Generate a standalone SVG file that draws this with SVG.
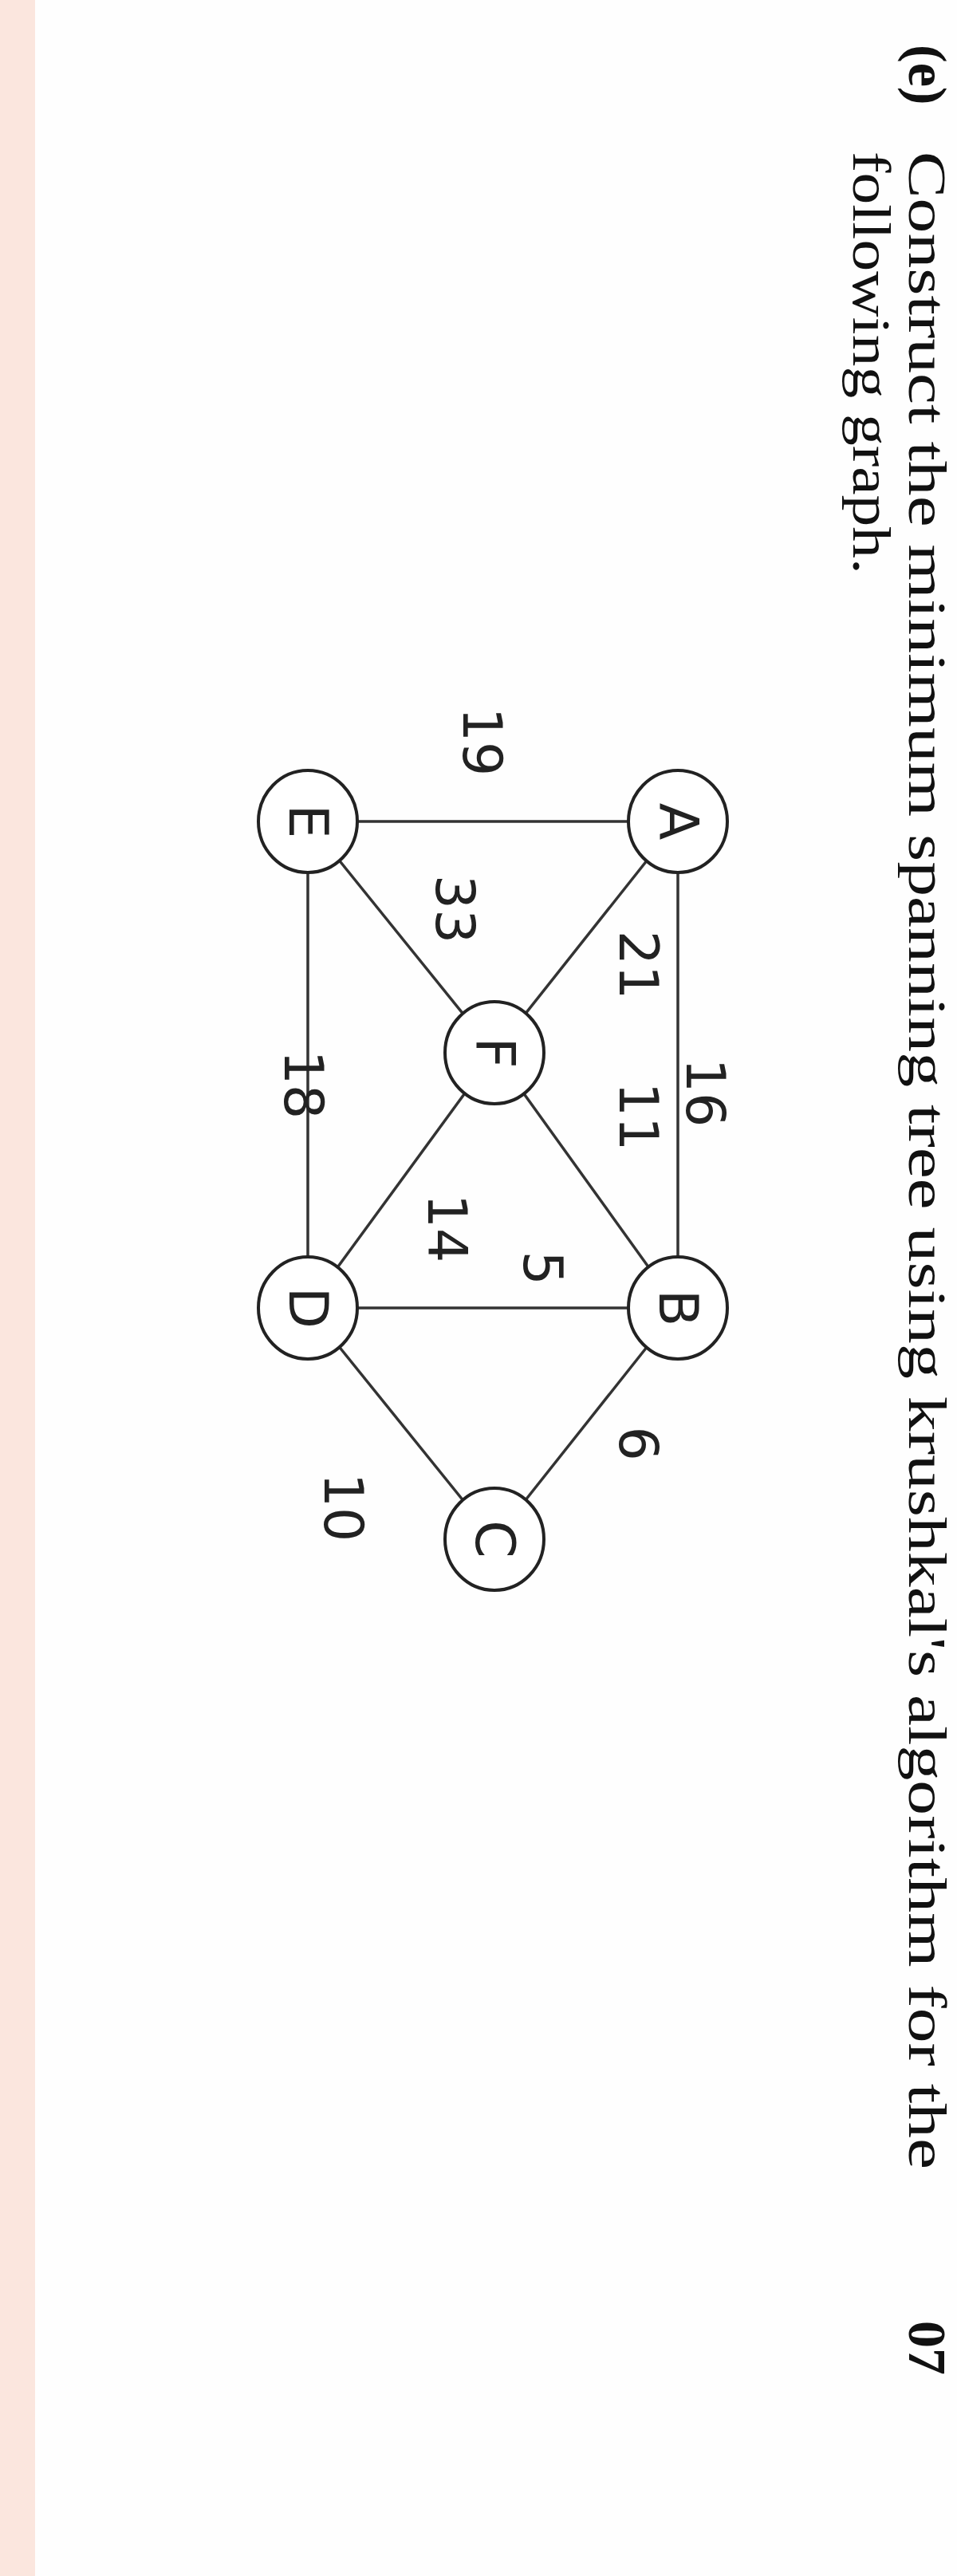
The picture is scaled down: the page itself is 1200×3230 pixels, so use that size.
<svg xmlns="http://www.w3.org/2000/svg" width="1200" height="3230" viewBox="0 0 1200 3230">
<style>
.q{font-family:"Liberation Serif",serif;font-size:68px;fill:#111}
.b{font-weight:bold}
.n{fill:#fff;stroke:#222;stroke-width:4}
.lab{font-family:"DejaVu Sans",sans-serif;font-size:68px;fill:#222;text-anchor:middle;dominant-baseline:central}
.e{stroke:#333;stroke-width:3.5}
</style>
<rect width="1200" height="3230" fill="#fefefe"/>
<rect x="0" y="0" width="44" height="3230" fill="#fbe6de"/>
<text class="q b" transform="translate(1140,56) rotate(90)">(e)</text>
<text class="q" transform="translate(1140,190) rotate(90)" textLength="2530" lengthAdjust="spacingAndGlyphs">Construct the minimum spanning tree using krushkal's algorithm for the</text>
<text class="q b" transform="translate(1140,2910) rotate(90)">07</text>
<text class="q" transform="translate(1070,190) rotate(90)" textLength="530" lengthAdjust="spacingAndGlyphs">following graph.</text>
<g id="edges">
<line class="e" x1="850" y1="1030" x2="386" y2="1030"/>
<line class="e" x1="850" y1="1030" x2="850" y2="1640"/>
<line class="e" x1="850" y1="1030" x2="620" y2="1320"/>
<line class="e" x1="386" y1="1030" x2="620" y2="1320"/>
<line class="e" x1="386" y1="1030" x2="386" y2="1640"/>
<line class="e" x1="620" y1="1320" x2="850" y2="1640"/>
<line class="e" x1="620" y1="1320" x2="386" y2="1640"/>
<line class="e" x1="386" y1="1640" x2="850" y2="1640"/>
<line class="e" x1="850" y1="1640" x2="620" y2="1930"/>
<line class="e" x1="386" y1="1640" x2="620" y2="1930"/>
</g>
<g id="weights">
<text class="lab" transform="translate(604,930) rotate(90)">19</text>
<text class="lab" transform="translate(884,1370) rotate(90)">16</text>
<text class="lab" transform="translate(800,1210) rotate(90)">21</text>
<text class="lab" transform="translate(570,1140) rotate(90)">33</text>
<text class="lab" transform="translate(800,1400) rotate(90)">11</text>
<text class="lab" transform="translate(380,1360) rotate(90)">18</text>
<text class="lab" transform="translate(560,1540) rotate(90)">14</text>
<text class="lab" transform="translate(680,1590) rotate(90)">5</text>
<text class="lab" transform="translate(800,1810) rotate(90)">6</text>
<text class="lab" transform="translate(430,1890) rotate(90)">10</text>
</g>
<g id="A"><ellipse class="n" cx="850" cy="1030" rx="62" ry="64"/><text class="lab" transform="translate(850,1030) rotate(90)">A</text></g>
<g id="E"><ellipse class="n" cx="386" cy="1030" rx="62" ry="64"/><text class="lab" transform="translate(386,1030) rotate(90)">E</text></g>
<g id="F"><ellipse class="n" cx="620" cy="1320" rx="62" ry="64"/><text class="lab" transform="translate(620,1320) rotate(90)">F</text></g>
<g id="D"><ellipse class="n" cx="386" cy="1640" rx="62" ry="64"/><text class="lab" transform="translate(386,1640) rotate(90)">D</text></g>
<g id="B"><ellipse class="n" cx="850" cy="1640" rx="62" ry="64"/><text class="lab" transform="translate(850,1640) rotate(90)">B</text></g>
<g id="C"><ellipse class="n" cx="620" cy="1930" rx="62" ry="64"/><text class="lab" transform="translate(620,1930) rotate(90)">C</text></g>
</svg>
